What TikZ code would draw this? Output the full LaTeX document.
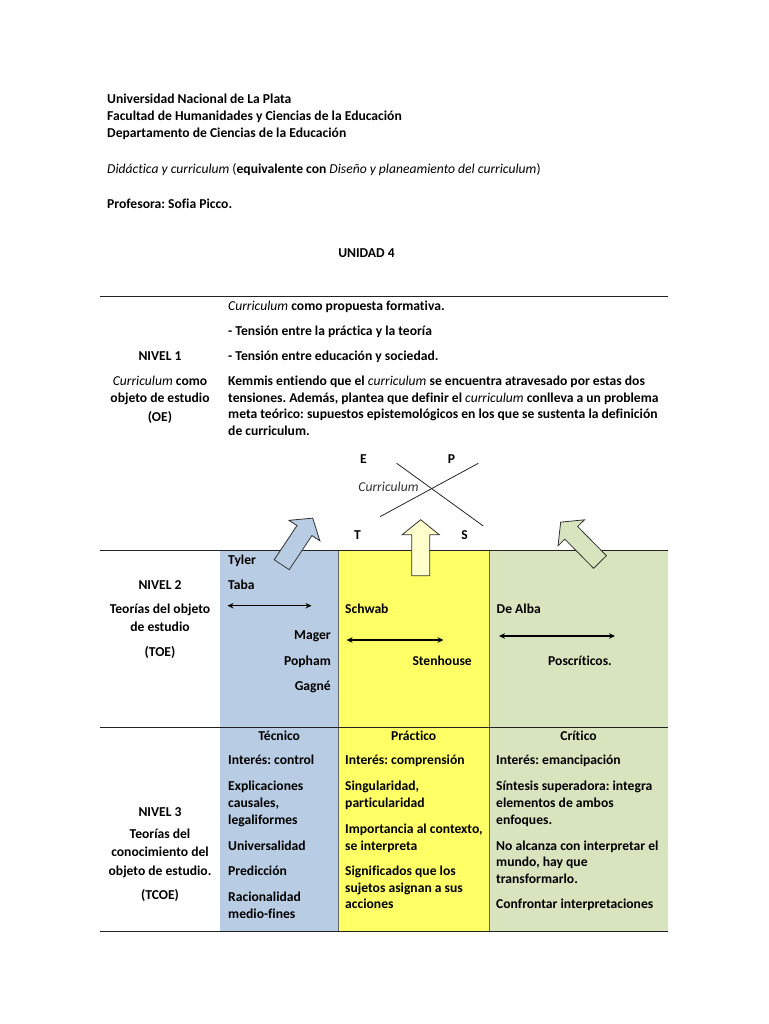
\documentclass[tikz,border=0pt]{standalone}
\usepackage{fontspec}
\setmainfont{Carlito}[Ligatures=NoCommon]
\usetikzlibrary{arrows.meta}
\definecolor{colblue}{HTML}{B8CCE4}
\definecolor{colyellow}{HTML}{FFFF66}
\definecolor{colgreen}{HTML}{D7E4BD}
\definecolor{arryellow}{HTML}{FFFFCC}
\definecolor{rule}{HTML}{222222}
\newcommand{\fsz}{\fontsize{13.6}{16.4}\selectfont\frenchspacing}
\tikzset{
  tl/.style={anchor=base west,inner sep=0pt,font=\fsz\bfseries},
  tc/.style={anchor=base,inner sep=0pt,font=\fsz\bfseries},
  tr/.style={anchor=base east,inner sep=0pt,font=\fsz\bfseries},
  hline/.style={draw=rule,line width=1pt},
  vline/.style={draw=rule!70,line width=0.6pt},
  dbl/.style={{Stealth[length=6pt,width=5.5pt]}-{Stealth[length=6pt,width=5.5pt]},line width=1.2pt,black},
  blockarrow/.style={draw=black!80,line width=0.8pt,line join=miter},
  crossline/.style={draw=black!85,line width=0.8pt}
}
\newcommand{\blockarr}[3]{%
  \begin{scope}[shift={#1},rotate=#2]
    \draw[blockarrow,fill=#3] (0,-9) -- (41,-9) -- (41,-18.5) -- (56,0) -- (41,18.5) -- (41,9) -- (0,9) -- cycle;
  \end{scope}}
\newcommand{\itreg}{\mdseries\itshape}
\begin{document}
\begin{tikzpicture}[x=1pt,y=1pt]
\useasboundingbox[fill=white] (0,0) rectangle (768,-1024);
% header
\node[tl] (h1) at (107,-104) {Universidad Nacional de La Plata};
\node[tl] (h2) at (107,-121) {Facultad de Humanidades y Ciencias de la Educación};
\node[tl] (h3) at (107,-137.7) {Departamento de Ciencias de la Educación};
\node[tl] (h4) at (107,-173.3) {{\itreg Didáctica y curriculum} {\mdseries (}equivalente con {\itreg Diseño y planeamiento del curriculum}{\mdseries )}};
\node[tl] (h5) at (107,-209) {Profesora: Sofia Picco.};
\node[tc] (unidad) at (366.5,-258) {UNIDAD 4};
% column fills
\fill[colblue] (220,-550.7) rectangle (338.3,-931.7);
\fill[colyellow] (338.3,-550.7) rectangle (489,-931.7);
\fill[colgreen] (489,-550.7) rectangle (668,-931.7);
\draw[vline] (338.3,-550.7) -- (338.3,-931.7);
\draw[vline] (489,-550.7) -- (489,-931.7);
% horizontal rules
\draw[hline] (100,-296.7) -- (668,-296.7);
\draw[hline] (100,-550.7) -- (668,-550.7);
\draw[hline] (100,-727.7) -- (668,-727.7);
\draw[hline] (100,-931.7) -- (668,-931.7);
% row 1
\node[tc] (n1a) at (160,-360.7) {NIVEL 1};
\node[tc] (n1b) at (160,-385.7) {{\itreg Curriculum} como};
\node[tc] (n1c) at (160,-402.7) {objeto de estudio};
\node[tc] (n1d) at (160,-421) {(OE)};
\node[tl] (r1a) at (228,-310) {{\itreg Curriculum} como propuesta formativa.};
\node[tl] (r1b) at (228,-335.7) {- Tensión entre la práctica y la teoría};
\node[tl] (r1c) at (228,-360.7) {- Tensión entre educación y sociedad.};
\node[tl] (r1d) at (228,-385.7) {Kemmis entiendo que el {\itreg curriculum} se encuentra atravesado por estas dos};
\node[tl] (r1e) at (228,-402.2) {tensiones. Además, plantea que definir el {\itreg curriculum} conlleva a un problema};
\node[tl] (r1f) at (228,-418.7) {meta teórico: supuestos epistemológicos en los que se sustenta la definición};
\node[tl] (r1g) at (228,-435.2) {de curriculum.};
% cross diagram
\coordinate (c1a) at (396.7,-463.3);
\coordinate (c1b) at (483.3,-526);
\coordinate (c2a) at (478.3,-463.3);
\coordinate (c2b) at (380,-516.7);
\draw[crossline] (c1a) -- (c1b);
\draw[crossline] (c2a) -- (c2b);
\node[tc] (E) at (363.4,-463.5) {E};
\node[tc] (P) at (451.5,-463.5) {P};
\node[tc] (T) at (357.5,-539) {T};
\node[tc] (S) at (464.5,-539) {S};
\node[anchor=base,inner sep=0pt,font=\fsz\itshape,text=black!80] (curr) at (388.5,-491.5) {Curriculum};
% block arrows
\blockarr{(281.7,-564.7)}{56.3}{colblue}
\blockarr{(420.7,-575.7)}{90}{arryellow}
\blockarr{(600,-562)}{134.6}{colgreen}
% row 2
\node[tc] (n2a) at (160,-589.3) {NIVEL 2};
\node[tc] (n2b) at (160,-613.3) {Teorías del objeto};
\node[tc] (n2c) at (160,-631) {de estudio};
\node[tc] (n2d) at (160,-656.7) {(TOE)};
\node[tl] (tyler) at (228,-564.3) {Tyler};
\node[tl] (taba) at (228,-589.3) {Taba};
\coordinate (ba1) at (227.5,-605.7);
\coordinate (ba2) at (311.5,-605.7);
\draw[dbl] (ba1) -- (ba2);
\node[tr] (mager) at (331,-639) {Mager};
\node[tr] (popham) at (331,-665) {Popham};
\node[tr] (gagne) at (331,-690) {Gagné};
\node[tl] (schwab) at (345,-613.3) {Schwab};
\coordinate (ya1) at (346.5,-640);
\coordinate (ya2) at (443.5,-640);
\draw[dbl] (ya1) -- (ya2);
\node[tr] (sten) at (472,-665) {Stenhouse};
\node[tl] (dealba) at (496.5,-613.3) {De Alba};
\coordinate (ga1) at (499,-636);
\coordinate (ga2) at (615,-636);
\draw[dbl] (ga1) -- (ga2);
\node[tc] (posc) at (580,-665) {Poscríticos.};
% row 3
\node[tc] (n3a) at (160,-816.7) {NIVEL 3};
\node[tc] (n3b) at (160,-838.3) {Teorías del};
\node[tc] (n3c) at (160,-856) {conocimiento del};
\node[tc] (n3d) at (160,-875) {objeto de estudio.};
\node[tc] (n3e) at (160,-899) {(TCOE)};
\node[tc] (tech) at (279.2,-740) {Técnico};
\node[tc] (prac) at (413.7,-740) {Práctico};
\node[tc] (crit) at (578.5,-740) {Crítico};
\node[tl] (t1) at (228,-764.3) {Interés: control};
\node[tl] (t2) at (228,-790.7) {Explicaciones};
\node[tl] (t3) at (228,-807.7) {causales,};
\node[tl] (t4) at (228,-824.3) {legaliformes};
\node[tl] (t5) at (228,-850) {Universalidad};
\node[tl] (t6) at (228,-875) {Predicción};
\node[tl] (t7) at (228,-901) {Racionalidad};
\node[tl] (t8) at (228,-918.3) {medio-fines};
\node[tl] (p1) at (345,-764.3) {Interés: comprensión};
\node[tl] (p2) at (345,-790.7) {Singularidad,};
\node[tl] (p3) at (345,-807.7) {particularidad};
\node[tl] (p4) at (345,-833.5) {Importancia al contexto,};
\node[tl] (p5) at (345,-850) {se interpreta};
\node[tl] (p6) at (345,-875) {Significados que los};
\node[tl] (p7) at (345,-892) {sujetos asignan a sus};
\node[tl] (p8) at (345,-908.5) {acciones};
\node[tl] (k1) at (496,-764.3) {Interés: emancipación};
\node[tl] (k2) at (496,-790.7) {Síntesis superadora: integra};
\node[tl] (k3) at (496,-807.7) {elementos de ambos};
\node[tl] (k4) at (496,-824.3) {enfoques.};
\node[tl] (k5) at (496,-850) {No alcanza con interpretar el};
\node[tl] (k6) at (496,-866.5) {mundo, hay que};
\node[tl] (k7) at (496,-883) {transformarlo.};
\node[tl] (k8) at (496,-908.5) {Confrontar interpretaciones};
\end{tikzpicture}
\end{document}
